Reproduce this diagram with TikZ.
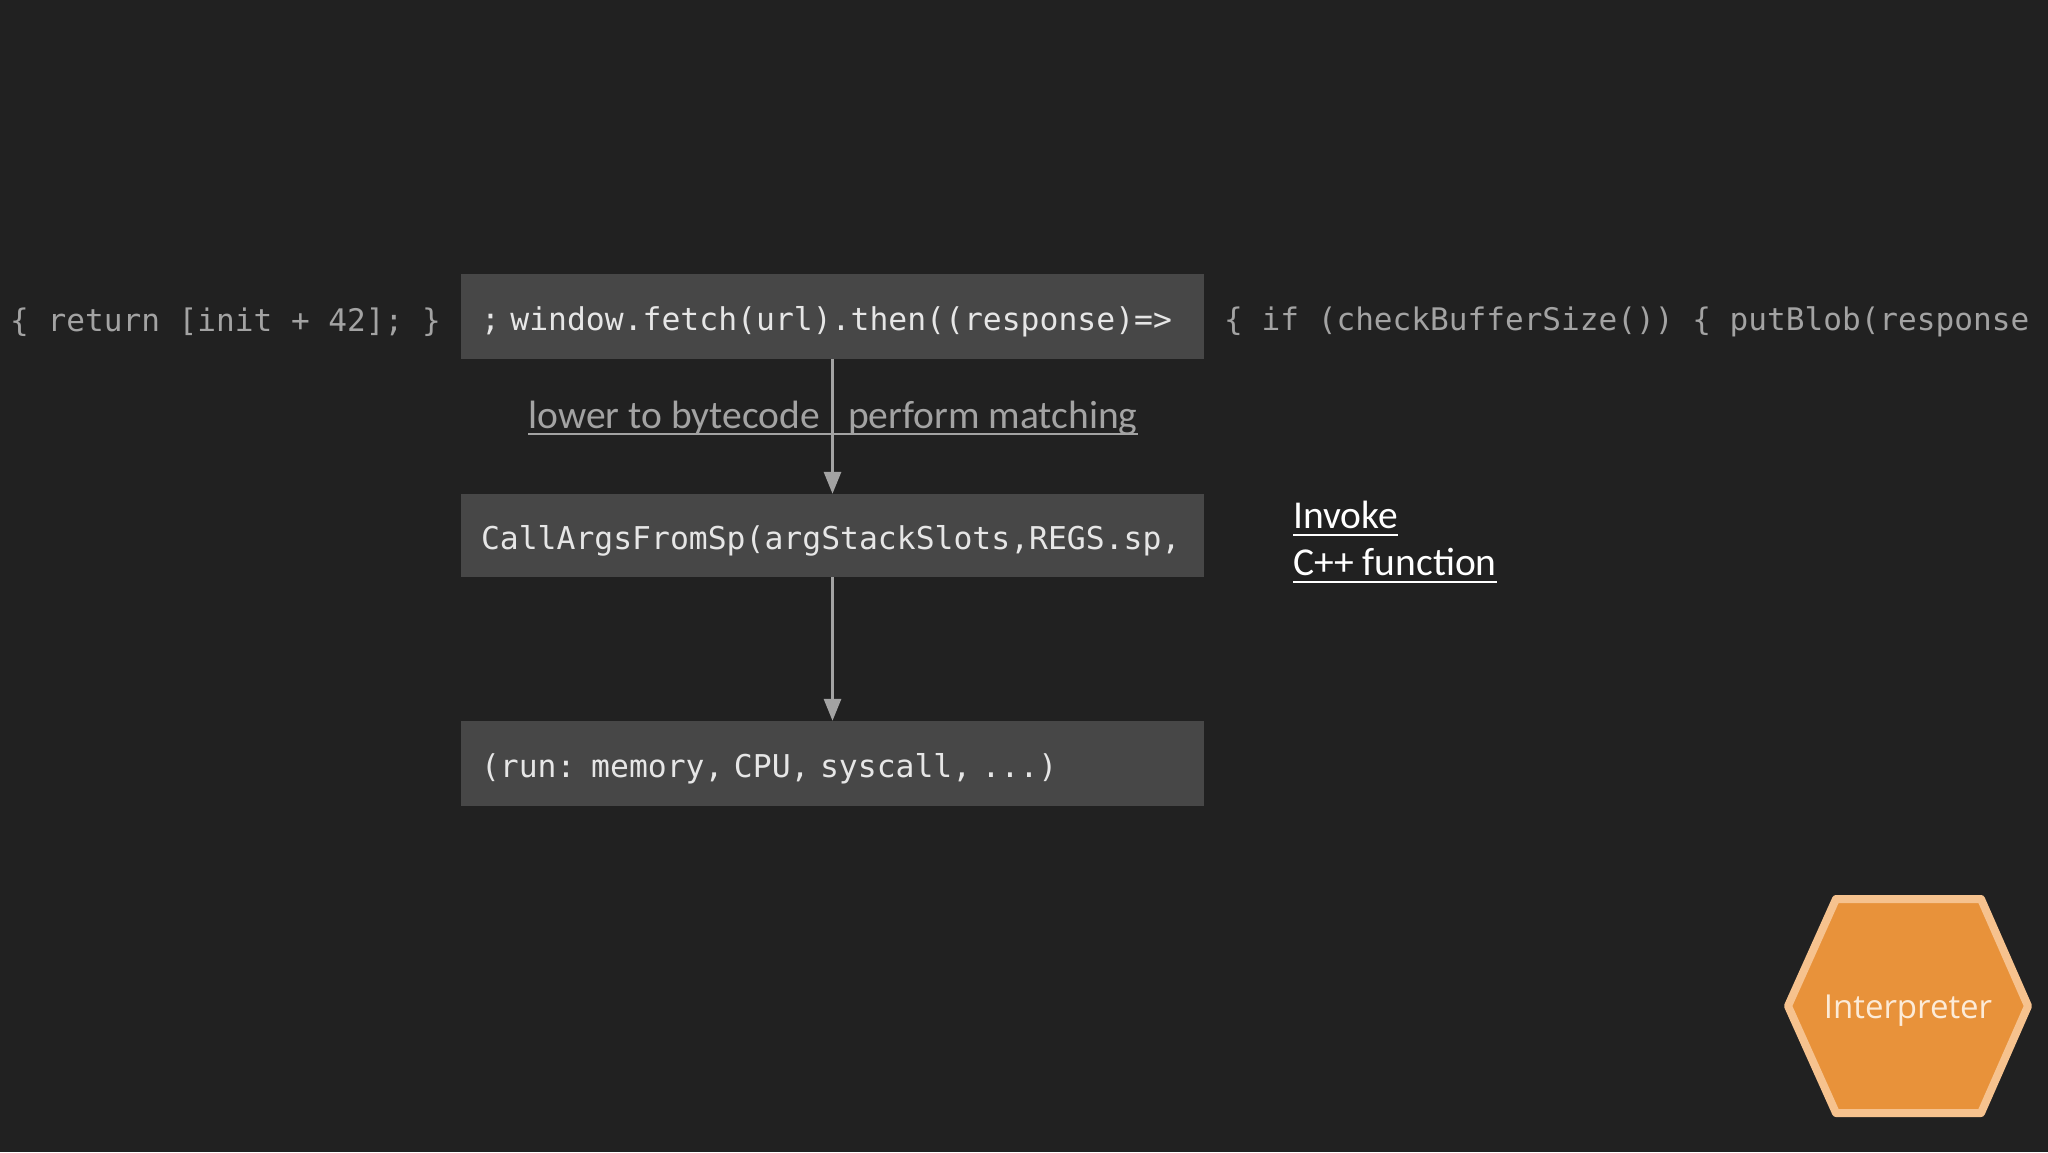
\documentclass[tikz,border=0pt]{standalone}
\usepackage{fontspec}
\usetikzlibrary{arrows.meta}
\newfontfamily\codefont{DejaVu Sans Mono}
\newfontfamily\calfont{Carlito}
\newfontfamily\hexfont{Open Sans}
\definecolor{bg}{HTML}{212121}
\definecolor{boxfill}{HTML}{474747}
\definecolor{codetext}{HTML}{E6E6E6}
\definecolor{dimtext}{HTML}{A3A3A3}
\definecolor{hexfill}{HTML}{E8923A}
\definecolor{hexedge}{HTML}{F6C28E}
\definecolor{hextext}{HTML}{FCEBD8}
\tikzset{
  codebox/.style={fill=boxfill, draw=none, minimum width=743pt, inner xsep=20pt, text width=703pt, align=left,
    text height=28pt, text depth=0pt,
    font=\codefont\fontsize{31.4}{37}\selectfont, text=codetext},
  sidecode/.style={inner sep=0pt, font=\codefont\fontsize{31.1}{37}\selectfont, text=dimtext},
  lbl/.style={inner sep=0pt, font=\calfont\fontsize{39.5}{46}\selectfont, text=dimtext},
  invk/.style={inner sep=0pt, font=\calfont\fontsize{39.5}{46}\selectfont, text=white},
  arr/.style={draw=dimtext, line width=3pt, -{Triangle[width=17pt,length=22pt]}},
  uline/.style={line width=2.6pt}
}
\begin{document}
\begin{tikzpicture}[x=1pt,y=-1pt]
\fill[bg] (0,0) rectangle (2048,1152);
\useasboundingbox (0,0) rectangle (2048,1152);

\node[codebox, minimum height=85pt] (b1) at (832.5,316.5) {; window.fetch(url).then((response)=>};
\node[codebox, minimum height=83pt] (b2) at (832.5,535.5) {CallArgsFromSp(argStackSlots,REGS.sp,};
\node[codebox, minimum height=85pt] (b3) at (832.5,763.5) {(run: memory, CPU, syscall, ...)};

\node[sidecode, anchor=west] (left) at (10,322) {\{ return [init + 42]; \}};
\node[sidecode, anchor=west] (right) at (1224,322) {\{ if (checkBufferSize()) \{ putBlob(response};

\node[lbl, anchor=base east] (l1) at (820,428) {lower to bytecode};
\node[lbl, anchor=base west] (l2) at (848,428) {perform matching};
\draw[uline, draw=dimtext] ([yshift=-6pt]l1.base west) -- ([yshift=-6pt]l2.base east);

\draw[arr] (b1.south) -- (b2.north);
\draw[arr] (b2.south) -- (b3.north);

\node[invk, anchor=base west] (i1) at (1293,528) {Invoke};
\node[invk, anchor=base west] (i2) at (1293,575) {C++ function};
\draw[uline, draw=white] ([yshift=-7pt]i1.base west) -- ([yshift=-7pt]i1.base east);
\draw[uline, draw=white] ([yshift=-7pt]i2.base west) -- ([yshift=-7pt]i2.base east);

\draw[fill=hexfill, draw=hexedge, line width=8pt, line join=round]
  (1788,1006) -- (1836,899) -- (1981,899) -- (2028,1006) -- (1981,1113) -- (1836,1113) -- cycle;
\node[inner sep=0pt, font=\hexfont\fontsize{33}{40}\selectfont, text=hextext] (hex) at (1908,1011) {Interpreter};
\end{tikzpicture}
\end{document}
